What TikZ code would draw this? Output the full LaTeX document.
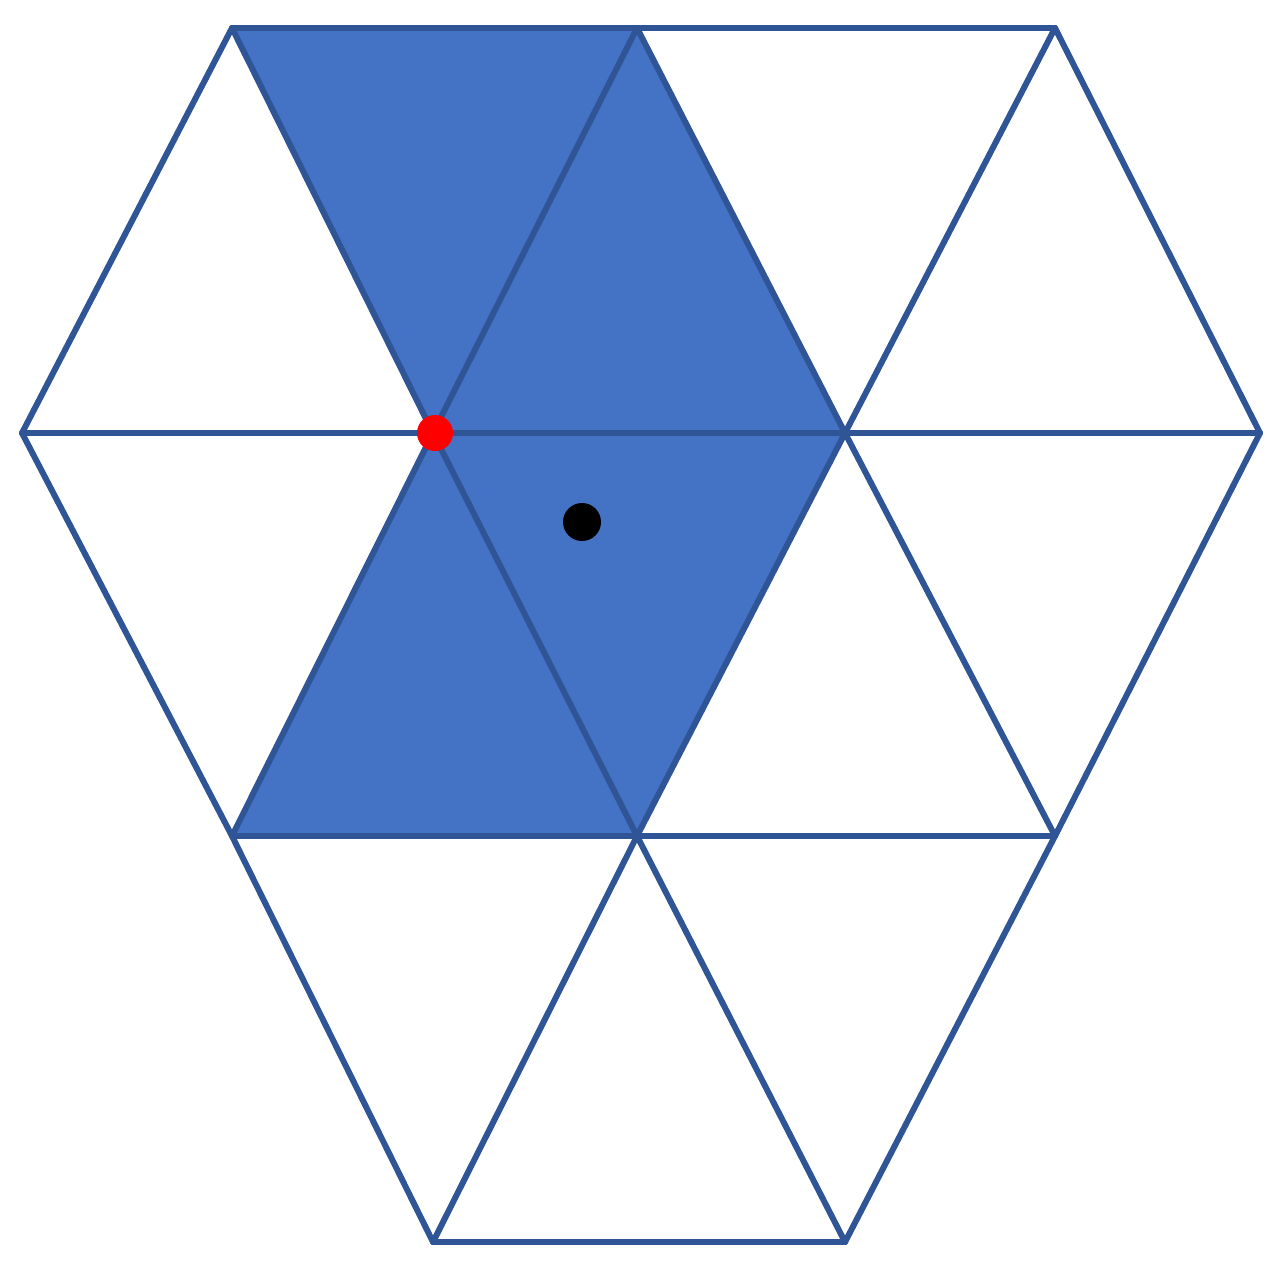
\documentclass[tikz,border=0pt]{standalone}
\usepackage{tikz}
\definecolor{gridblue}{HTML}{2F5597}
\definecolor{fillblue}{HTML}{4472C4}
\begin{document}
\begin{tikzpicture}[x=0.01cm,y=-0.01cm,
  edge/.style={draw=gridblue,line width=1.7pt,line join=round,line cap=round}]
\useasboundingbox (0,0) rectangle (1280,1276);
\coordinate (a1) at (232,28);
\coordinate (a2) at (637,28);
\coordinate (a3) at (1055,28);
\coordinate (b1) at (22,433);
\coordinate (b2) at (433,433);
\coordinate (b3) at (845,433);
\coordinate (b4) at (1260,433);
\coordinate (c1) at (232,836);
\coordinate (c2) at (637,836);
\coordinate (c3) at (1055,836);
\coordinate (d1) at (433,1242);
\coordinate (d2) at (845,1242);
% shaded triangles
\fill[fillblue] (a1) -- (a2) -- (b3) -- (c2) -- (c1) -- (b2) -- cycle;
% grid lines
\draw[edge] (a1) -- (a3);
\draw[edge] (b1) -- (b4);
\draw[edge] (c1) -- (c3);
\draw[edge] (d1) -- (d2);
\draw[edge] (a1) -- (b1);
\draw[edge] (a2) -- (b2) -- (c1);
\draw[edge] (a3) -- (b3) -- (c2) -- (d1);
\draw[edge] (b4) -- (c3) -- (d2);
\draw[edge] (a1) -- (b2) -- (c2) -- (d2);
\draw[edge] (a2) -- (b3) -- (c3);
\draw[edge] (a3) -- (b4);
\draw[edge] (b1) -- (c1) -- (d1);
% points
\fill[red] (435,433) circle (18);
\fill[black] (582,522) circle (19);
\end{tikzpicture}
\end{document}
